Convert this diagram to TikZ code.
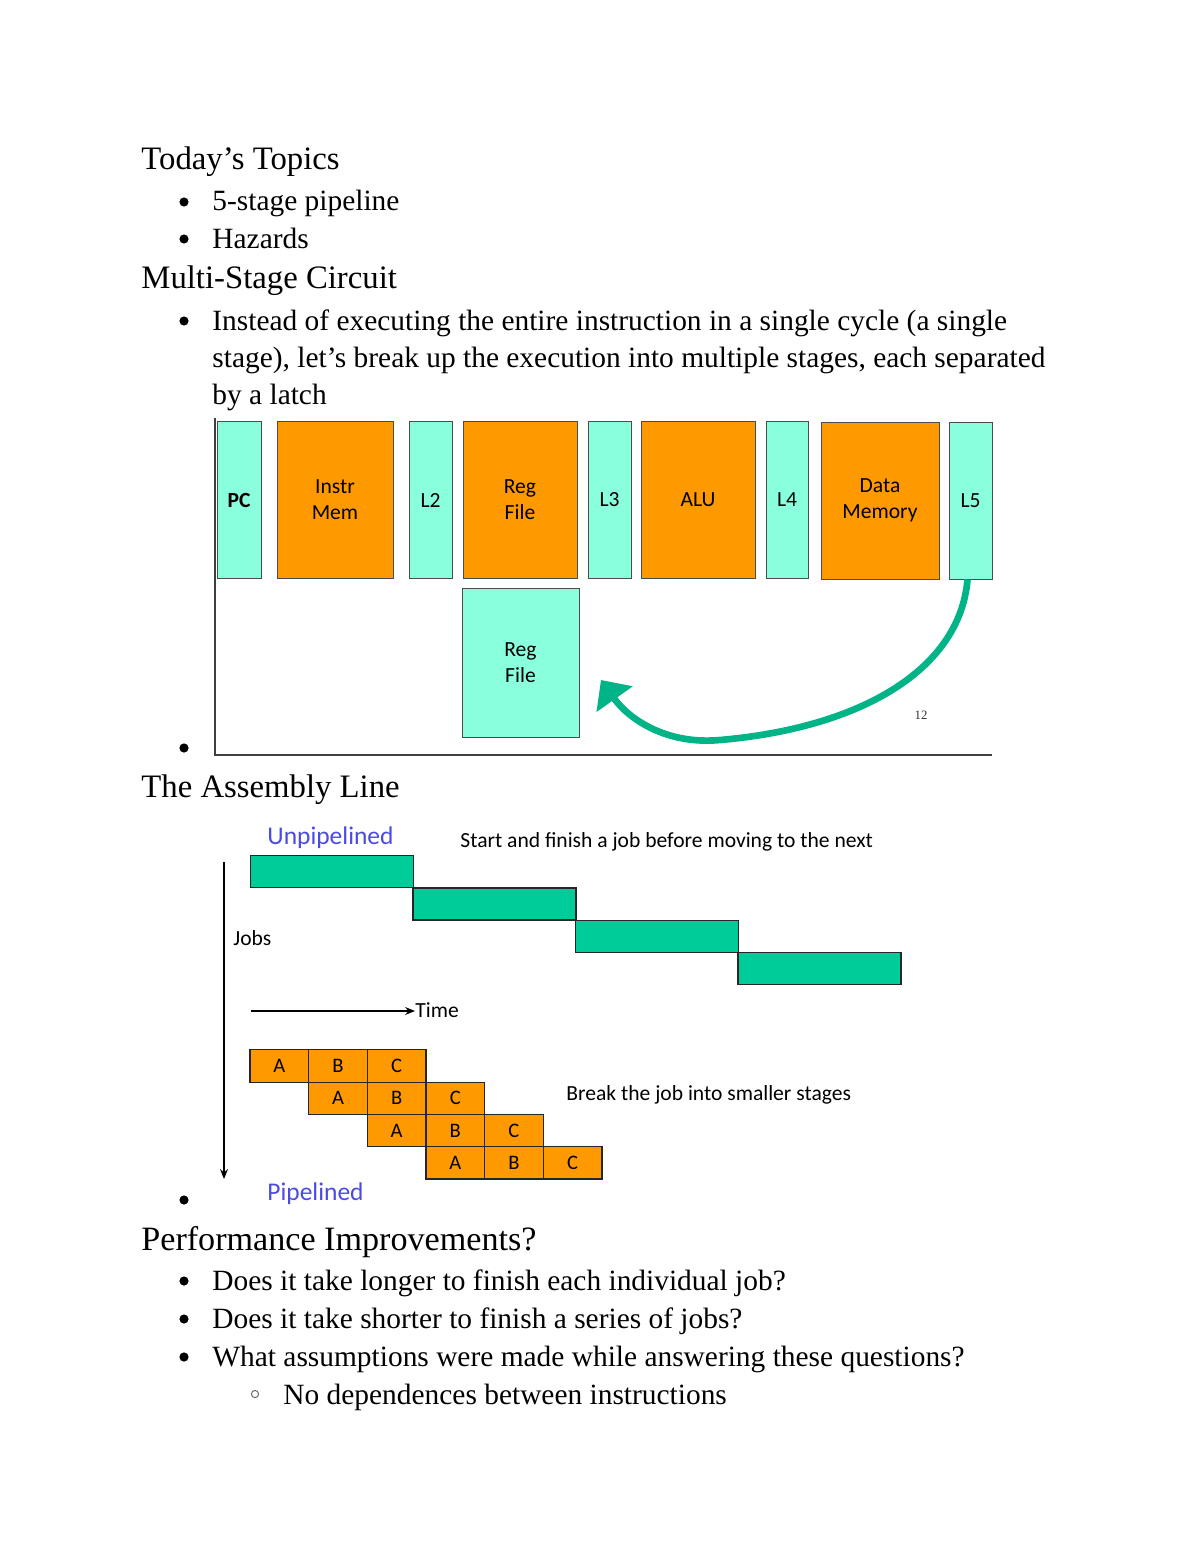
\documentclass[tikz,border=0pt]{standalone}
\usepackage{fontspec}
\setmainfont{Liberation Serif}
\newfontfamily\diagfont{Carlito}
\usepackage{tikz}
\usetikzlibrary{arrows.meta}
\definecolor{latchcyan}{RGB}{138,255,222}
\definecolor{unitorange}{RGB}{255,153,0}
\definecolor{jobgreen}{RGB}{0,204,153}
\definecolor{wbteal}{RGB}{0,180,135}
\definecolor{labelblue}{RGB}{75,75,228}
\newlength{\px}\setlength{\px}{0.51pt}
\tikzset{
  heading/.style  = {anchor=base west,inner sep=0pt,font=\fontsize{16.7}{19}\selectfont},
  body/.style     = {anchor=base west,inner sep=0pt,font=\fontsize{15}{17}\selectfont},
  latch/.style    = {draw=black!70,fill=latchcyan,minimum width=43\px,minimum height=157\px,
                     inner sep=0pt,align=center,font=\diagfont\fontsize{11}{13.3}\selectfont},
  unitbox/.style  = {latch,fill=unitorange,minimum width=116\px},
  axisline/.style = {black!75,line width=1.2pt},
  wbarrow/.style  = {-{Triangle[length=12pt,width=22pt]},wbteal,line width=3.4pt},
  jobbar/.style   = {draw=black!85,fill=jobgreen,line width=0.7pt,minimum width=163\px,
                     minimum height=32\px,inner sep=0pt},
  cell/.style     = {draw=black!85,fill=unitorange,line width=0.6pt,minimum width=58.7\px,
                     minimum height=32.3\px,inner sep=0pt,font=\diagfont\fontsize{10.5}{12}\selectfont},
  note/.style     = {anchor=base west,inner sep=0pt,font=\diagfont\fontsize{11}{12}\selectfont},
  bluelabel/.style= {note,labelblue,font=\diagfont\fontsize{13}{15}\selectfont},
  jobarr/.style   = {-{Stealth[length=5pt,width=4pt]},line width=0.9pt}
}
\newcommand{\bulletdot}[1]{\fill (184,#1) circle (4.6\px);}

\begin{document}
\begin{tikzpicture}[x=0.51pt,y=-0.51pt]
  \useasboundingbox (0,0) rectangle (1200,1553);
  % page text
  \node[heading] (topics) at (141,170) {Today’s Topics};
  \bulletdot{202}
  \node[body] (topic1) at (212,211) {5-stage pipeline};
  \bulletdot{239}
  \node[body] (topic2) at (212,248) {Hazards};
  \node[heading] (multi) at (141,288) {Multi-Stage Circuit};
  \bulletdot{321}
  \node[body] (multi1) at (212,330) {Instead of executing the entire instruction in a single cycle (a single};
  \node[body] (multi2) at (212,367) {stage), let's break up the execution into multiple stages, each separated};
  \node[body] (multi3) at (212,404) {by a latch};
  \bulletdot{748}
  \node[heading] (assembly) at (141,797) {The Assembly Line};
  \bulletdot{1200}
  \node[heading,font=\fontsize{17.4}{20}\selectfont] (perf) at (141,1250) {Performance Improvements?};
  \bulletdot{1281}
  \node[body] (perf1) at (212,1290) {Does it take longer to finish each individual job?};
  \bulletdot{1319}
  \node[body] (perf2) at (212,1328) {Does it take shorter to finish a series of jobs?};
  \bulletdot{1357}
  \node[body] (perf3) at (212,1366) {What assumptions were made while answering these questions?};
  \draw[black!60,line width=0.5pt] (255,1394) circle (3.6\px);
  \node[body] (perf3a) at (283,1404) {No dependences between instructions};

  % multi-stage circuit
  \draw[axisline] (215,418) -- (215,755) -- (992,755);
  \node[latch,minimum width=44\px,font=\diagfont\bfseries\fontsize{11}{13.3}\selectfont] (pc) at (239,500) {PC};
  \node[unitbox] (imem) at (335,500) {Instr\\Mem};
  \node[latch] (l2) at (430.5,500) {L2};
  \node[unitbox,minimum width=114\px] (rf) at (520,500) {Reg\\File};
  \node[latch] (l3) at (609.5,500) {L3};
  \node[unitbox,minimum width=114\px] (alu) at (698,500) {ALU};
  \node[latch,minimum width=42\px] (l4) at (787,500) {L4};
  \node[unitbox,minimum width=118\px] (dmem) at (880,500.5) {Data\\Memory};
  \node[latch] (l5) at (970.5,500.5) {L5};
  \node[latch,minimum width=117\px,minimum height=149\px] (rfwb) at (520.5,662.5) {Reg\\File};
  \coordinate (wbtip) at (601,680);
  \draw[wbarrow] ([xshift=-3\px]l5.south) .. controls (960,670) and (860,728) .. (720,740)
    .. controls (665,745) and (628,718) .. (wbtip);
  \node[inner sep=0pt,font=\fontsize{6.5}{7}\selectfont,black!80] (slide) at (921,715) {12};

  % assembly line
  \node[bluelabel] (unpipe) at (267,844) {Unpipelined};
  \node[note] (startnote) at (460,847) {Start and finish a job before moving to the next};
  \foreach \j in {0,...,3}
    \node[jobbar] (job\j) at ({332+162.5*\j},{871.5+32.4*\j}) {};
  \coordinate (jobtop) at (224,862);
  \coordinate (jobbot) at (224,1179);
  \draw[jobarr] (jobtop) -- (jobbot);
  \node[note] (jobs) at (233,945) {Jobs};
  \node[note] (time) at (415,1017) {Time};
  \coordinate (tstart) at (251,1011);
  \draw[jobarr] (tstart) -- (tstart -| time.west);
  \foreach \r in {0,...,3}
    \foreach \c/\s in {0/A,1/B,2/C}
      \node[cell] (cell\r\s) at ({279.3+58.67*(\r+\c)},{1066+32.25*\r}) {\s};
  \node[note] (breaknote) at (566,1100) {Break the job into smaller stages};
  \node[bluelabel] (pipe) at (267,1200) {Pipelined};
\end{tikzpicture}
\end{document}
